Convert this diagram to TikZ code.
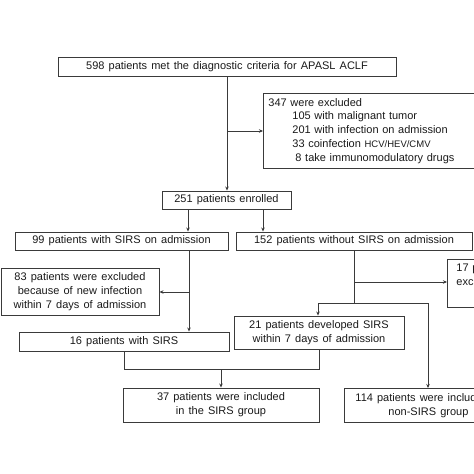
\documentclass[tikz,border=0pt]{standalone}
\usepackage{fontspec}
\setmainfont{Liberation Sans}[WordSpace=1.35]
\usetikzlibrary{arrows.meta,calc}
\definecolor{linec}{HTML}{3A3A3A}
\definecolor{txt}{HTML}{1A1A1A}
\begin{document}
\begin{tikzpicture}[x=1pt,y=-1pt,
  box/.style={draw=linec, line width=0.9pt, inner sep=0pt, align=center,
    font=\fontsize{11}{13.8}\selectfont, text=txt},
  arr/.style={draw=linec, line width=0.9pt, -{Stealth[length=4pt,width=3.5pt]}},
  ln/.style={draw=linec, line width=0.9pt}]
\useasboundingbox (0,0) rectangle (474,474);
\clip (0,0) rectangle (474,474);
\fill[white] (0,0) rectangle (474,474);

\node[box, minimum width=338, minimum height=19] (b598) at (227,66.5)
  {598 patients met the diagnostic criteria for APASL ACLF};
\node[box, anchor=north west, minimum height=75, text width=250, align=left, inner xsep=5pt] (bexc) at (263,93)
  {347 were excluded\\
   \hspace*{24pt}105 with malignant tumor\\
   \hspace*{24pt}201 with infection on admission\\
   \hspace*{24pt}33 coinfection {\fontsize{9.5}{13.8}\selectfont HCV/HEV/CMV}\\
   \hspace*{27pt}8 take immunomodulatory drugs};
\node[box, minimum width=129, minimum height=18] (b251) at (226.5,200) {251 patients enrolled};
\node[box, minimum width=213, minimum height=18] (b99) at (121.5,241) {99 patients with SIRS on admission};
\node[box, minimum width=236, minimum height=18] (b152) at (354,241) {152 patients without SIRS on admission};
\node[box, minimum width=158, minimum height=47] (b83) at (80,291.5)
  {83 patients were excluded\\because of new infection\\within 7 days of admission};
\node[box, anchor=north west, minimum height=48, text width=100, align=left, inner xsep=9pt] (b17) at (447,259)
  {17 patients were\\excluded because\\\strut};
\node[box, minimum width=170, minimum height=33] (b21) at (319,332.5)
  {21 patients developed SIRS\\within 7 days of admission};
\node[box, minimum width=210, minimum height=19] (b16) at (124,341.5) {16 patients with SIRS};
\node[box, minimum width=196, minimum height=34] (b37) at (221,405)
  {37 patients were included\\in the SIRS group};
\node[box, anchor=north west, minimum width=168, minimum height=34] (b114) at (344,388)
  {114 patients were included in\\non-SIRS group};

% connectors
\draw[arr] (b598.south) -- (b598.south |- b251.north);
\coordinate (j1) at (227,131);
\draw[arr] (j1) -- (j1 -| bexc.west);

\coordinate (s1) at (188,209);
\coordinate (s2) at (263,209);
\draw[arr] (s1) -- (s1 |- b99.north);
\draw[arr] (s2) -- (s2 |- b152.north);

\coordinate (s3) at (189,250);
\draw[arr] (s3) -- (s3 |- b16.north);
\coordinate (j2) at (189,292);
\draw[arr] (j2) -- (j2 -| b83.east);

\coordinate (j4) at (354,303);
\draw[ln] (b152.south) -- (j4);
\coordinate (j3) at (354,282);
\draw[arr] (j3) -- (j3 -| b17.west);
\coordinate (hl) at (318,303);
\coordinate (hr) at (428,303);
\draw[ln] (hl) -- (hr);
\draw[arr] (hl) -- (hl |- b21.north);
\draw[arr] (hr) -- (hr |- b114.north);

\draw[ln] (b16.south) -- ++(0,18) -| (b21.south);
\coordinate (m) at (221,369);
\draw[arr] (m) -- (m |- b37.north);
\end{tikzpicture}
\end{document}
